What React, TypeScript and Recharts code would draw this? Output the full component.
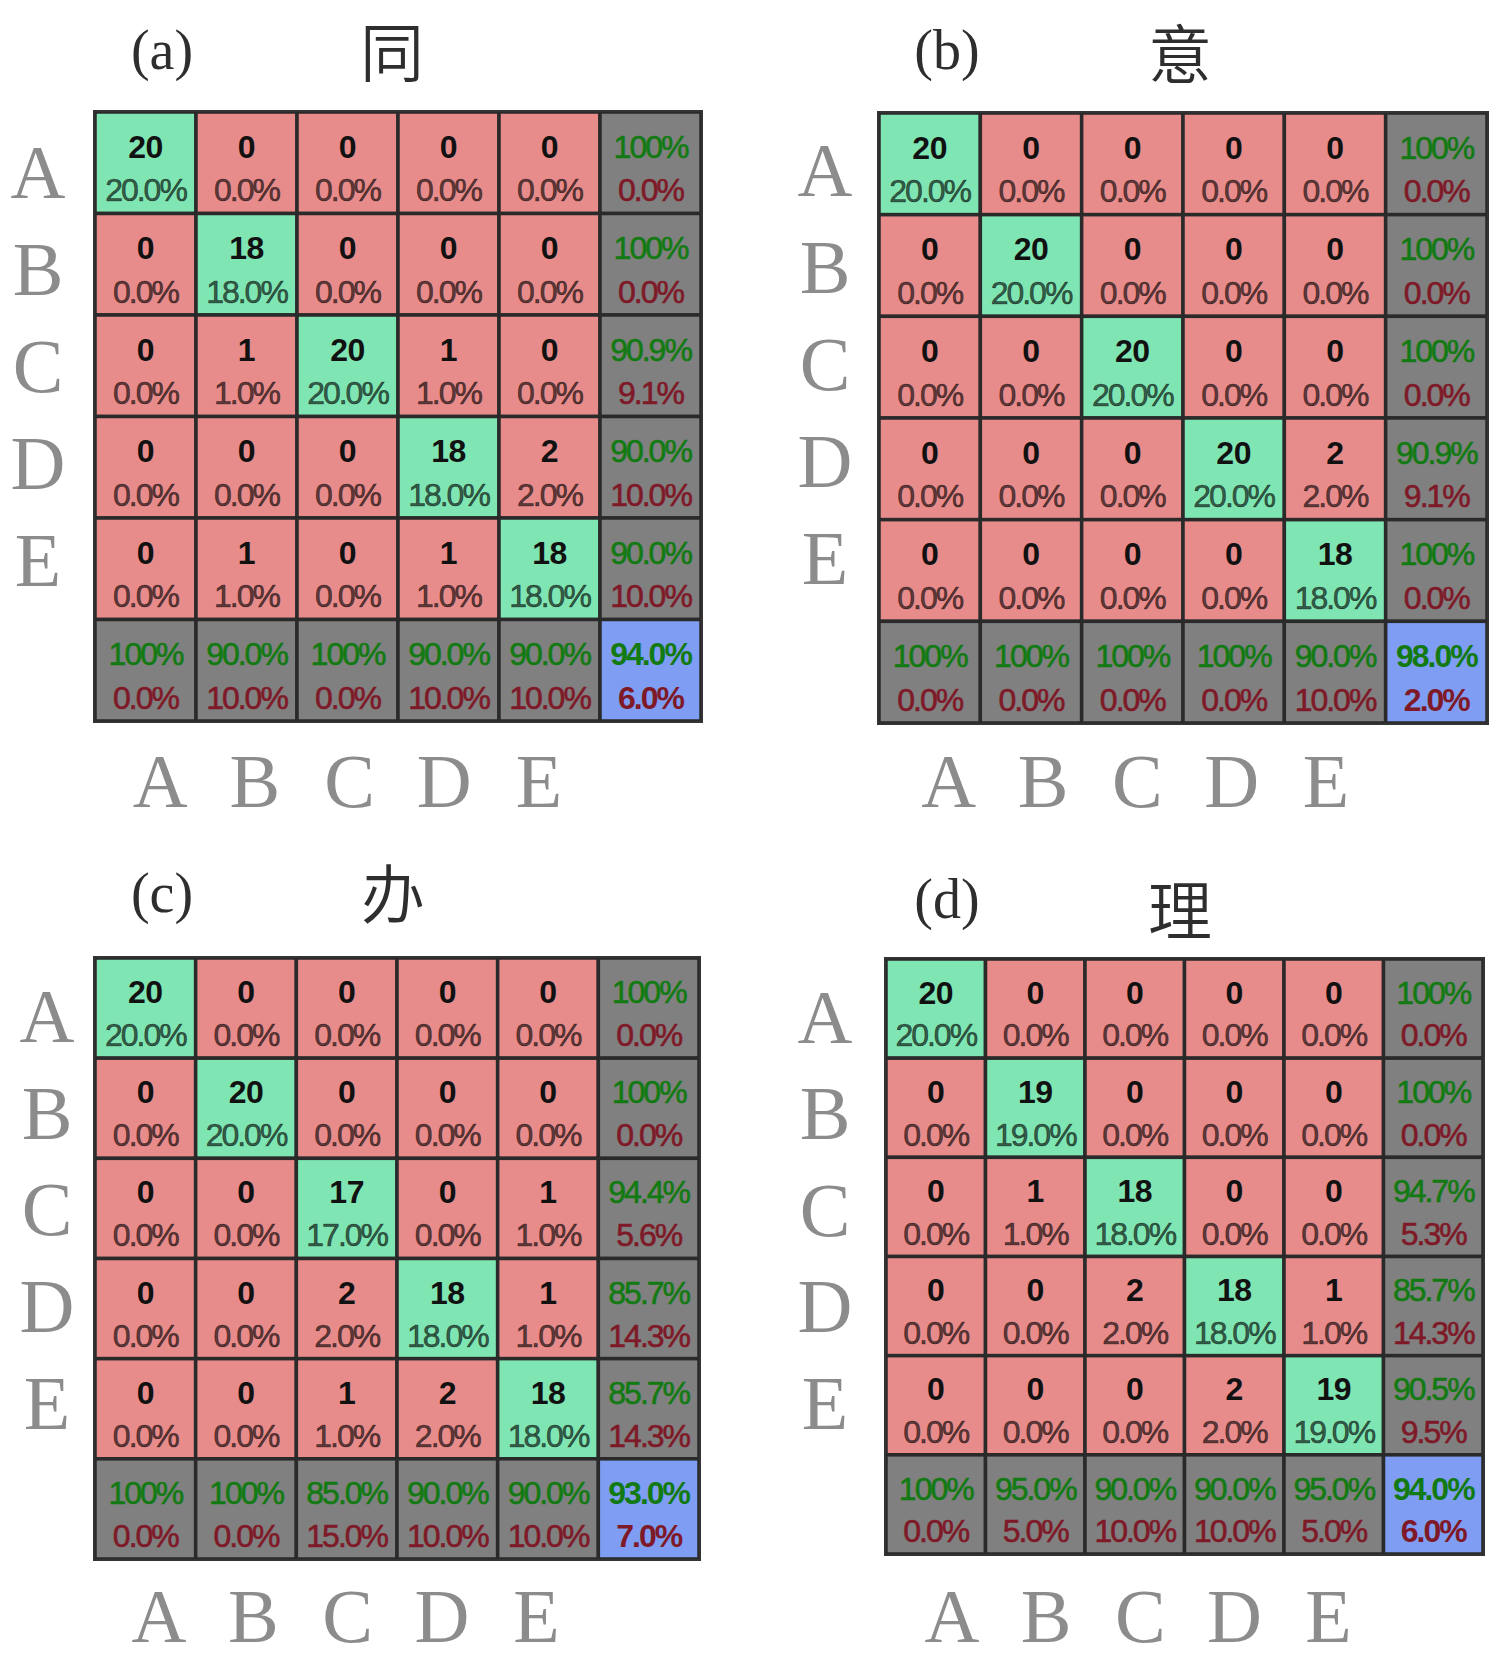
import React from 'react';
import { ScatterChart, Scatter, XAxis, YAxis, ReferenceArea } from 'recharts';

// ---------- data ----------
const classes = ['A', 'B', 'C', 'D', 'E'];

const countsA = [
  [20, 0, 0, 0, 0],
  [0, 18, 0, 0, 0],
  [0, 1, 20, 1, 0],
  [0, 0, 0, 18, 2],
  [0, 1, 0, 1, 18],
];
const rowRateA = ['100%', '100%', '90.9%', '90.0%', '90.0%'];
const rowErrA = ['0.0%', '0.0%', '9.1%', '10.0%', '10.0%'];
const colRateA = ['100%', '90.0%', '100%', '90.0%', '90.0%'];
const colErrA = ['0.0%', '10.0%', '0.0%', '10.0%', '10.0%'];
const totalA = ['94.0%', '6.0%'];

const countsB = [
  [20, 0, 0, 0, 0],
  [0, 20, 0, 0, 0],
  [0, 0, 20, 0, 0],
  [0, 0, 0, 20, 2],
  [0, 0, 0, 0, 18],
];
const rowRateB = ['100%', '100%', '100%', '90.9%', '100%'];
const rowErrB = ['0.0%', '0.0%', '0.0%', '9.1%', '0.0%'];
const colRateB = ['100%', '100%', '100%', '100%', '90.0%'];
const colErrB = ['0.0%', '0.0%', '0.0%', '0.0%', '10.0%'];
const totalB = ['98.0%', '2.0%'];

const countsC = [
  [20, 0, 0, 0, 0],
  [0, 20, 0, 0, 0],
  [0, 0, 17, 0, 1],
  [0, 0, 2, 18, 1],
  [0, 0, 1, 2, 18],
];
const rowRateC = ['100%', '100%', '94.4%', '85.7%', '85.7%'];
const rowErrC = ['0.0%', '0.0%', '5.6%', '14.3%', '14.3%'];
const colRateC = ['100%', '100%', '85.0%', '90.0%', '90.0%'];
const colErrC = ['0.0%', '0.0%', '15.0%', '10.0%', '10.0%'];
const totalC = ['93.0%', '7.0%'];

const countsD = [
  [20, 0, 0, 0, 0],
  [0, 19, 0, 0, 0],
  [0, 1, 18, 0, 0],
  [0, 0, 2, 18, 1],
  [0, 0, 0, 2, 19],
];
const rowRateD = ['100%', '100%', '94.7%', '85.7%', '90.5%'];
const rowErrD = ['0.0%', '0.0%', '5.3%', '14.3%', '9.5%'];
const colRateD = ['100%', '95.0%', '90.0%', '90.0%', '95.0%'];
const colErrD = ['0.0%', '5.0%', '10.0%', '10.0%', '5.0%'];
const totalD = ['94.0%', '6.0%'];

const panelTags = ['(a)', '(b)', '(c)', '(d)'];
const panelChars = ['同', '意', '办', '理'];

// ---------- helpers ----------
type Cell = { x: number; y: number; kind: string; top: string; bottom: string };

function buildCells(
  counts: number[][],
  rowRate: string[],
  rowErr: string[],
  colRate: string[],
  colErr: string[],
  total: string[]
): Cell[] {
  const sum = counts.reduce((s, r) => s + r.reduce((a, b) => a + b, 0), 0);
  const cells: Cell[] = [];
  counts.forEach((row, r) => {
    row.forEach((v, c) => {
      cells.push({
        x: c + 0.5,
        y: r + 0.5,
        kind: r === c ? 'hit' : 'miss',
        top: String(v),
        bottom: ((v / sum) * 100).toFixed(1) + '%',
      });
    });
    cells.push({ x: 5.5, y: r + 0.5, kind: 'sum', top: rowRate[r], bottom: rowErr[r] });
  });
  colRate.forEach((v, c) => {
    cells.push({ x: c + 0.5, y: 5.5, kind: 'sum', top: v, bottom: colErr[c] });
  });
  cells.push({ x: 5.5, y: 5.5, kind: 'total', top: total[0], bottom: total[1] });
  return cells;
}

const FILLS: Record<string, string> = {
  hit: '#7FE6B3',
  miss: '#E88B8B',
  sum: '#808080',
  total: '#7E9DF3',
};

const SANS = '"Liberation Sans", Arial, Helvetica, sans-serif';
const SERIF = '"Liberation Serif", "Times New Roman", serif';

const makeShape = (cw: number, ch: number) => (props: any) => {
  const { cx, cy, payload } = props;
  if (cx == null || cy == null || !payload) return <g />;
  const kind = payload.kind;
  const isSum = kind === 'sum' || kind === 'total';
  const topY = cy - ch * 0.16;
  const botY = cy + ch * 0.27;
  return (
    <g>
      <rect
        x={cx - cw / 2}
        y={cy - ch / 2}
        width={cw}
        height={ch}
        fill={FILLS[kind]}
        stroke="#2a2a2a"
        strokeWidth={3.5}
      />
      {isSum ? (
        <text
          x={cx}
          y={topY}
          textAnchor="middle"
          dominantBaseline="central"
          fontFamily={SANS}
          fontSize={32}
          fontWeight={kind === 'total' ? 700 : 400}
          letterSpacing={-2}
          fill="#137a13"
          stroke="#137a13"
          strokeWidth={kind === 'total' ? 0 : 0.6}
        >
          {payload.top}
        </text>
      ) : (
        <text
          x={cx}
          y={topY}
          textAnchor="middle"
          dominantBaseline="central"
          fontFamily={SANS}
          fontSize={32}
          fontWeight={700}
          letterSpacing={-0.5}
          fill="#111"
        >
          {payload.top}
        </text>
      )}
      <text
        x={cx}
        y={botY}
        textAnchor="middle"
        dominantBaseline="central"
        fontFamily={SANS}
        fontSize={32}
        fontWeight={kind === 'total' ? 700 : 400}
        letterSpacing={-2}
        fill={isSum ? '#7E1A28' : '#000'}
        fillOpacity={isSum ? 1 : 0.62}
        stroke={isSum ? '#7E1A28' : '#000'}
        strokeOpacity={isSum ? 1 : 0.62}
        strokeWidth={kind === 'total' ? 0 : 0.6}
      >
        {payload.bottom}
      </text>
    </g>
  );
};

type PanelSpec = {
  idx: number;
  cells: Cell[];
  gx: number;
  gy: number;
  gw: number;
  gh: number;
  rowLabelX: number;
  colLabelDy: number;
  colShift: [number, number];
  rowShift: [number, number];
  tagPos: [number, number];
  charPos: [number, number];
};

const YW = 100;
const XH = 110;
const PAD = 10;

function Panel({ spec }: { spec: PanelSpec }) {
  const { gx, gy, gw, gh, cells } = spec;
  const cw = gw / 6;
  const ch = gh / 6;
  const width = YW + gw + PAD;
  const height = PAD + gh + XH;
  const rowDx = gx - spec.rowLabelX;
  const shape = makeShape(cw, ch);

  const xTick = (p: any) => {
    const i = Math.round(p.payload.value - 0.5);
    return (
      <text
        x={p.x + spec.colShift[0] + spec.colShift[1] * (i - 2)}
        y={p.y + spec.colLabelDy}
        textAnchor="middle"
        dominantBaseline="central"
        fontFamily={SERIF}
        fontSize={76}
        fill="#8c8c8c"
      >
        {classes[i]}
      </text>
    );
  };
  const yTick = (p: any) => {
    const i = Math.round(p.payload.value - 0.5);
    return (
      <text
        x={p.x - rowDx}
        y={p.y + 3 + spec.rowShift[0] + spec.rowShift[1] * (i - 2)}
        textAnchor="middle"
        dominantBaseline="central"
        fontFamily={SERIF}
        fontSize={76}
        fill="#8c8c8c"
      >
        {classes[i]}
      </text>
    );
  };

  return (
    <>
      <div style={{ position: 'absolute', left: gx - YW, top: gy - PAD }}>
        <ScatterChart
          width={width}
          height={height}
          margin={{ top: PAD, right: PAD, left: 0, bottom: 0 }}
        >
          <XAxis
            type="number"
            dataKey="x"
            domain={[0, 6]}
            ticks={[0.5, 1.5, 2.5, 3.5, 4.5]}
            allowDataOverflow
            axisLine={false}
            tickLine={false}
            tickSize={0}
            tickMargin={0}
            height={XH}
            tick={xTick}
            interval={0}
          />
          <YAxis
            type="number"
            dataKey="y"
            domain={[0, 6]}
            reversed
            ticks={[0.5, 1.5, 2.5, 3.5, 4.5]}
            allowDataOverflow
            axisLine={false}
            tickLine={false}
            tickSize={0}
            tickMargin={0}
            width={YW}
            tick={yTick}
            interval={0}
          />
          <ReferenceArea
            x1={0}
            x2={6}
            y1={0}
            y2={6}
            fill="#555"
            fillOpacity={1}
            stroke="#333"
            strokeWidth={4}
            ifOverflow="visible"
          />
          <Scatter data={cells} shape={shape} isAnimationActive={false} />
        </ScatterChart>
      </div>
      <div
        style={{
          position: 'absolute',
          left: spec.tagPos[0],
          top: spec.tagPos[1],
          transform: 'translate(-50%, -50%)',
          fontFamily: SERIF,
          fontSize: 56,
          lineHeight: 1,
          color: '#2e2e2e',
          whiteSpace: 'nowrap',
        }}
      >
        {panelTags[spec.idx]}
      </div>
      <div
        style={{
          position: 'absolute',
          left: spec.charPos[0],
          top: spec.charPos[1],
          transform: 'translate(-50%, -50%)',
          fontFamily: '"Noto Sans CJK SC", "Noto Sans CJK TC", sans-serif',
          fontWeight: 350,
          fontSize: 64,
          lineHeight: 1,
          color: '#2e2e2e',
          whiteSpace: 'nowrap',
        }}
      >
        {panelChars[spec.idx]}
      </div>
    </>
  );
}

const specs: PanelSpec[] = [
  {
    idx: 0,
    cells: buildCells(countsA, rowRateA, rowErrA, colRateA, colErrA, totalA),
    gx: 95, gy: 112, gw: 606, gh: 609,
    rowLabelX: 38, colLabelDy: 60,
    colShift: [2, -6.3], rowShift: [-3, -4.5],
    tagPos: [162, 50], charPos: [392, 48],
  },
  {
    idx: 1,
    cells: buildCells(countsB, rowRateB, rowErrB, colRateB, colErrB, totalB),
    gx: 879, gy: 113, gw: 608, gh: 610,
    rowLabelX: 825, colLabelDy: 58,
    colShift: [5, -7], rowShift: [-6, -4.6],
    tagPos: [947, 50], charPos: [1180, 50],
  },
  {
    idx: 2,
    cells: buildCells(countsC, rowRateC, rowErrC, colRateC, colErrC, totalC),
    gx: 95, gy: 958, gw: 604, gh: 601,
    rowLabelX: 47, colLabelDy: 57,
    colShift: [1, -6.3], rowShift: [-2, -3.6],
    tagPos: [162, 893], charPos: [393, 890],
  },
  {
    idx: 3,
    cells: buildCells(countsD, rowRateD, rowErrD, colRateD, colErrD, totalD),
    gx: 886, gy: 959, gw: 597, gh: 595,
    rowLabelX: 825, colLabelDy: 62,
    colShift: [5.5, -5.4], rowShift: [0, -2.6],
    tagPos: [947, 899], charPos: [1180, 906],
  },
];

export default function App() {
  return (
    <div
      style={{
        position: 'absolute',
        left: 0,
        top: 0,
        width: 1510,
        height: 1668,
        background: '#ffffff',
        overflow: 'hidden',
      }}
    >
      {specs.map((s) => (
        <Panel key={s.idx} spec={s} />
      ))}
    </div>
  );
}
